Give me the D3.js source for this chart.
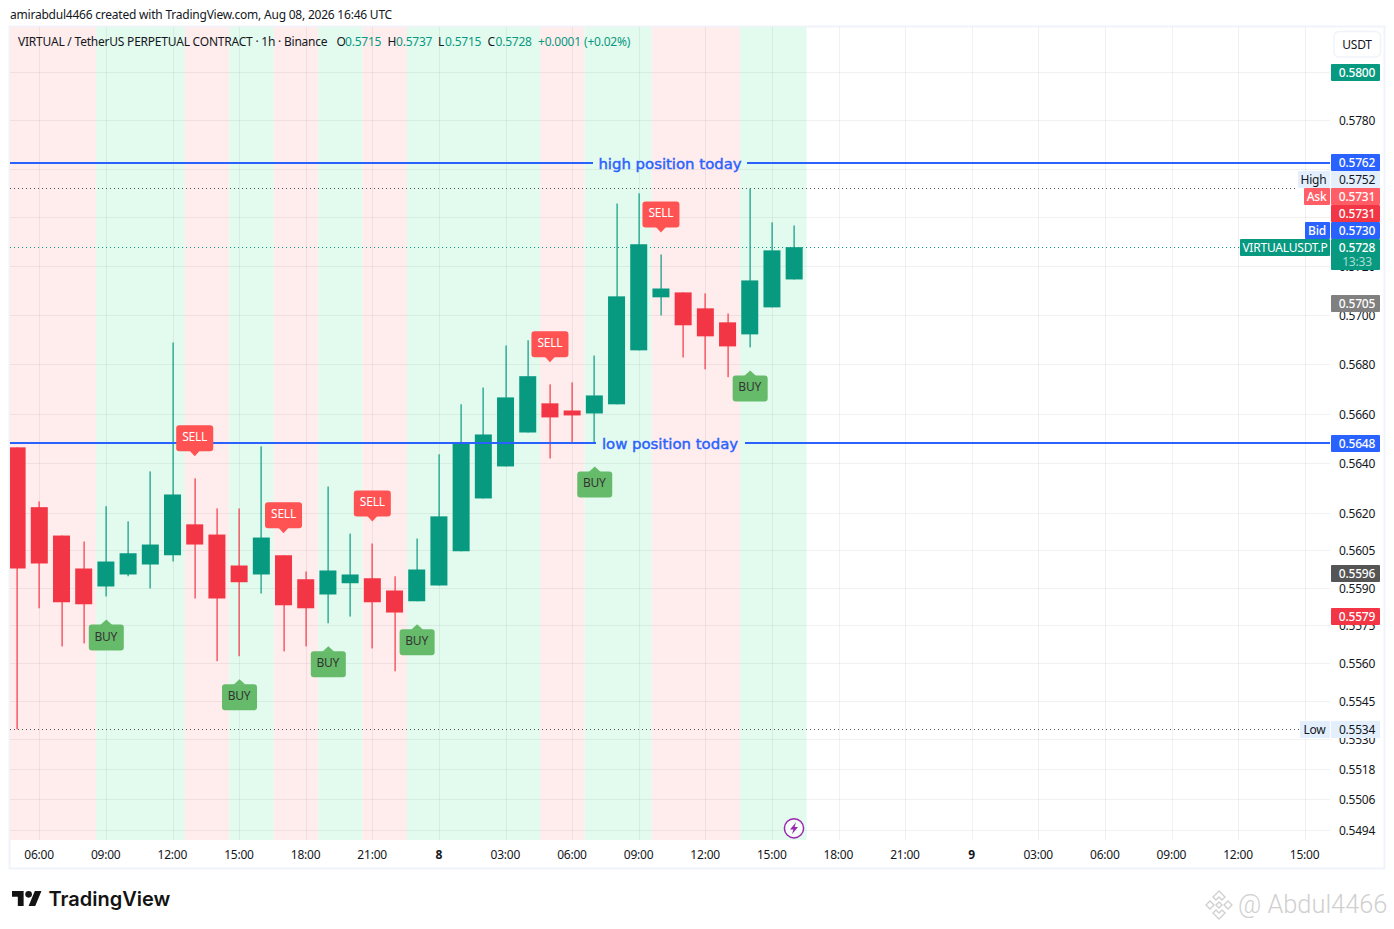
<!DOCTYPE html>
<html><head><meta charset="utf-8">
<script src="https://cdnjs.cloudflare.com/ajax/libs/d3/7.8.5/d3.min.js"></script>
<style>html,body{margin:0;padding:0;background:#fff}svg{display:block}text{font-family:"Noto Sans",Roboto,sans-serif;letter-spacing:-.22px}</style>
</head><body><svg id="c" width="1394" height="929"></svg>
<script>
// hours counted from Aug 7 00:00 UTC
const hours  = [5,6,7,8,9,10,11,12,13,14,15,16,17,18,19,20,21,22,23,24,25,26,27,28,29,30,31,32,33,34,35,36,37,38,39,40];
const opens  = [.56464,.56223,.56109,.55977,.55905,.55953,.55993,.5603,.56154,.56113,.55989,.55953,.5603,.55934,.55873,.55918,.55938,.55889,.55846,.55909,.56046,.56258,.56387,.56524,.56642,.56613,.56601,.56638,.56857,.57073,.57093,.57028,.56971,.56922,.57032,.57146];
const highs  = [.56464,.56246,.56109,.56085,.56227,.56166,.56367,.56889,.56339,.56218,.56218,.56468,.5603,.55965,.56306,.56117,.56077,.55946,.56097,.56436,.56638,.56706,.56877,.56898,.56719,.56727,.56836,.57457,.57499,.57248,.57093,.57089,.57007,.57519,.5738,.57367];
const lows   = [.55337,.55818,.55666,.55678,.55865,.55946,.55897,.56005,.55857,.55607,.55627,.55877,.55646,.55666,.55758,.55785,.55658,.55567,.55846,.55909,.56046,.56258,.56387,.56524,.56419,.5648,.5648,.56638,.56857,.56999,.56828,.5678,.56748,.56869,.57032,.57146];
const closes = [.55977,.55997,.55842,.55834,.56005,.56038,.56073,.56274,.56073,.55857,.55922,.56101,.5583,.55818,.55969,.55953,.55842,.55801,.55973,.56186,.5648,.56516,.56666,.56752,.56585,.56593,.56674,.57077,.5729,.57109,.56959,.56914,.56873,.57142,.57265,.57278];
const sellHours = [13,17,21,29,34];
const buyHours  = [9,15,19,23,31,38];
const bandEdges = [4.5,8.56,12.56,14.56,16.56,18.56,20.56,22.56,28.56,30.56,33.58,37.56,40.56];
const bandKinds = ['sell','buy','sell','buy','sell','buy','sell','buy','sell','buy','sell','buy'];
const timeTicks = [6,9,12,15,18,21,24,27,30,33,36,39,42,45,48,51,54,57,60,63];
const timeLabels= ['06:00','09:00','12:00','15:00','18:00','21:00','8','03:00','06:00','09:00','12:00','15:00','18:00','21:00','9','03:00','06:00','09:00','12:00','15:00'];
const priceTicks= [.58,.578,.576,.574,.572,.57,.568,.566,.564,.562,.5605,.559,.5575,.556,.5545,.553,.5518,.5506,.5494];
const highLine = .57622, lowLine = .5648, lastClose = .57278, dayHigh = .57519, dayLow = .55337;

const RED='#f23645', GREEN='#089981', BLUE='#2962ff', INK='#131722';
const L=10,R=1330,T=27,B=840, AX=1357;
const x=d3.scaleLinear().domain([6,63]).range([39.3,1304.8]);
const y=d3.scaleLog().domain([.5494,.58]).range([830,72]);
const svg=d3.select('#c');
svg.append('defs').append('clipPath').attr('id','pane').append('rect').attr('x',L).attr('y',T).attr('width',R-L).attr('height',B-T);
svg.append('rect').attr('x',9.5).attr('y',26.5).attr('width',1375).attr('height',842).attr('fill','#fff').attr('stroke','#f0f3fa').attr('stroke-width',2);

const pane=svg.append('g').attr('clip-path','url(#pane)');
// session bands
pane.append('g').selectAll('rect').data(bandKinds).join('rect')
  .attr('x',(d,i)=>x(bandEdges[i])).attr('width',(d,i)=>x(bandEdges[i+1])-x(bandEdges[i]))
  .attr('y',T).attr('height',B-T).attr('fill',d=>d==='sell'?'#ffecec':'#e3fbee');
// grid
const gx=pane.append('g').attr('transform',`translate(0,${B})`).call(d3.axisBottom(x).tickValues(timeTicks).tickSize(-(B-T)).tickFormat(''));
const gy=pane.append('g').attr('transform',`translate(${R},0)`).call(d3.axisLeft(y).tickValues(priceTicks).tickSize(R-L).tickFormat(''));
[gx,gy].forEach(g=>{g.select('.domain').remove();g.selectAll('line').attr('stroke','#2a2e39').attr('stroke-opacity',.065).attr('stroke-width',1).attr('shape-rendering','crispEdges');});

// dotted guides
const dot=[[dayHigh,1298,'#555'],[lastClose,1240,GREEN],[dayLow,1300,'#555']];
pane.append('g').selectAll('line').data(dot).join('line')
  .attr('x1',L).attr('x2',d=>d[1]).attr('y1',d=>Math.round(y(d[0]))+.5).attr('y2',d=>Math.round(y(d[0]))+.5)
  .attr('stroke',d=>d[2]).attr('stroke-dasharray','1 3').attr('stroke-width',1);

// candles
const cg=pane.append('g').selectAll('g').data(hours).join('g');
cg.append('rect').attr('x',h=>Math.round(x(h))-.5).attr('width',1.2)
  .attr('y',(h,i)=>y(highs[i])).attr('height',(h,i)=>y(lows[i])-y(highs[i]))
  .attr('fill',(h,i)=>closes[i]>=opens[i]?GREEN:RED);
cg.append('rect').attr('x',h=>x(h)-8.5).attr('width',17)
  .attr('y',(h,i)=>y(Math.max(opens[i],closes[i]))).attr('height',(h,i)=>Math.abs(y(opens[i])-y(closes[i])))
  .attr('fill',(h,i)=>closes[i]>=opens[i]?GREEN:RED);

// horizontal price lines with inline titles
const lines=[
 {v:highLine,t:'high position today',gap:[593,747]},
 {v:lowLine,t:'low position today',gap:[596,745]}];
const lg=svg.append('g').selectAll('g').data(lines).join('g');
const ly=d=>Math.round(y(d.v));
lg.append('line').attr('x1',L).attr('x2',d=>d.gap[0]).attr('y1',ly).attr('y2',ly).attr('stroke',BLUE).attr('stroke-width',2);
lg.append('line').attr('x1',d=>d.gap[1]).attr('x2',R).attr('y1',ly).attr('y2',ly).attr('stroke',BLUE).attr('stroke-width',2);
lg.append('text').attr('x',670).attr('y',d=>ly(d)+5.5).attr('text-anchor','middle').attr('fill',BLUE)
  .style('font-family','"DejaVu Sans"').style('letter-spacing','0').style('font-size','14.9px').attr('stroke',BLUE).attr('stroke-width',.45).text(d=>d.t);

// signals
const sig=svg.append('g');
sellHours.forEach(h=>{
  const i=hours.indexOf(h), cx=x(h), tip=y(highs[i])-22;
  const g=sig.append('g').attr('transform',`translate(${cx},${tip})`);
  g.append('path').attr('d','M-5,-5.5L0,0L5,-5.5Z').attr('fill','#ff5252');
  g.append('rect').attr('x',-18.5).attr('y',-31).attr('width',37).attr('height',26).attr('rx',3).attr('fill','#ff5252');
  g.append('text').attr('y',-15.5).attr('text-anchor','middle').attr('fill','#fff').style('font-size','12px').text('SELL');
});
buyHours.forEach(h=>{
  const i=hours.indexOf(h), cx=x(h)+.4, tip=y(lows[i])+23;
  const g=sig.append('g').attr('transform',`translate(${cx},${tip})`);
  g.append('path').attr('d','M-6,5.5L0,0L6,5.5Z').attr('fill','#66bb6a');
  g.append('rect').attr('x',-17.5).attr('y',5).attr('width',35).attr('height',26).attr('rx',3).attr('fill','#66bb6a');
  g.append('text').attr('x',-.5).attr('y',21).attr('text-anchor','middle').attr('fill','#333').style('font-size','12px').text('BUY');
});

// bolt icon
const bolt=svg.append('g').attr('transform','translate(794,828.3)');
bolt.append('circle').attr('r',9.6).attr('fill','#fff').attr('fill-opacity',.6).attr('stroke','#9c27b0').attr('stroke-width',1.5);
bolt.append('path').attr('d','M2,-6L-4,1.2H-.6L-2,6L4,-1.2H.6Z').attr('fill','#9c27b0');

// axes
const xa=svg.append('g').attr('transform','translate(-.7,849)').call(d3.axisBottom(x).tickValues(timeTicks).tickSize(0).tickPadding(0).tickFormat((d,i)=>timeLabels[i]));
xa.select('.domain').remove();
xa.selectAll('text').attr('dy','.8em').attr('fill',INK).style('font-size','12px').style('font-weight',(d,i)=>/:/.test(timeLabels[i])?400:700);
const ya=svg.append('g').attr('transform',`translate(${AX},.5)`).call(d3.axisRight(y).tickValues(priceTicks).tickSize(0).tickPadding(0).tickFormat(d3.format('.4f')));
ya.select('.domain').remove();
ya.selectAll('text').attr('text-anchor','middle').attr('fill',INK).style('font-size','12px');

// price tags
const tags=[
 {t:'0.5800',c:72.5,bg:GREEN},{t:'0.5762',c:162.5,bg:BLUE},
 {t:'0.5752',c:179.5,bg:'#e3effd',fg:INK,side:'High',sx:1298},
 {t:'0.5731',c:196.5,bg:'#ff5e66',side:'Ask',sx:1304},
 {t:'0.5731',c:213.5,bg:RED},
 {t:'0.5730',c:230.5,bg:BLUE,side:'Bid',sx:1305},
 {t:'0.5705',c:303.5,bg:'#808080'},{t:'0.5648',c:443.5,bg:BLUE},
 {t:'0.5596',c:573.5,bg:'#555'},{t:'0.5579',c:616.5,bg:RED},
 {t:'0.5534',c:729.5,bg:'#e3effd',fg:INK,side:'Low',sx:1300}];
const tg=svg.append('g');
tags.forEach(d=>{
  const fg=d.fg||'#fff';
  tg.append('rect').attr('x',1331).attr('y',d.c-8.5).attr('width',49).attr('height',17).attr('rx',1).attr('fill',d.bg);
  tg.append('text').attr('x',AX).attr('y',d.c+4.3).attr('text-anchor','middle').attr('fill',fg).style('font-size','12px').style('font-weight',d.fg?400:500).text(d.t);
  if(d.side){
    tg.append('rect').attr('x',d.sx).attr('y',d.c-8.5).attr('width',1330-d.sx).attr('height',17).attr('rx',1).attr('fill',d.bg);
    tg.append('text').attr('x',(1326+d.sx+1)/2+1).attr('y',d.c+4.3).attr('text-anchor','middle').attr('fill',fg).style('font-size','12px').style('font-weight',d.fg?400:500).text(d.side);
  }
});
tg.append('rect').attr('x',1331).attr('y',239).attr('width',49).attr('height',31).attr('rx',1).attr('fill',GREEN);
tg.append('text').attr('x',AX).attr('y',252).attr('text-anchor','middle').attr('fill','#fff').style('font-size','12px').style('font-weight',500).text('0.5728');
tg.append('text').attr('x',AX).attr('y',266).attr('text-anchor','middle').attr('fill','#a8dcd0').style('font-size','12px').text('13:33');
tg.append('rect').attr('x',1240).attr('y',239).attr('width',90).attr('height',17).attr('rx',1).attr('fill',GREEN);
tg.append('text').attr('x',1285).attr('y',252).attr('text-anchor','middle').attr('fill','#fff').style('font-size','12px').text('VIRTUALUSDT.P');

// currency button
svg.append('rect').attr('x',1334).attr('y',31.5).attr('width',46.5).attr('height',25.5).attr('rx',5).attr('fill','#fff').attr('stroke','#f0f3fa').attr('stroke-width',1.5);
svg.append('text').attr('x',1357).attr('y',49).attr('text-anchor','middle').attr('fill',INK).style('font-size','12px').text('USDT');

// title and legend
svg.append('text').attr('x',10).attr('y',19).attr('fill',INK).style('font-size','12px').text('amirabdul4466 created with TradingView.com, Aug 08, 2026 16:46 UTC');
const legend=[
 [18,'VIRTUAL / TetherUS PERPETUAL CONTRACT · 1h · Binance',INK],
 [336.5,'O',INK],[345,'0.5715',GREEN],[387.5,'H',INK],[396,'0.5737',GREEN],[438,'L',INK],[445,'0.5715',GREEN],
 [487.5,'C',INK],[495.5,'0.5728',GREEN],[538,'+0.0001',GREEN],[584,'(+0.02%)',GREEN]];
svg.append('g').selectAll('text').data(legend).join('text').attr('x',d=>d[0]).attr('y',46).attr('fill',d=>d[2]).style('font-size','12px').text(d=>d[1]);

// TradingView logo
const logo=svg.append('g').attr('transform','translate(12,887.7) scale(.83)').attr('fill','#131313');
logo.append('path').attr('d','M14 22H7V11H0V4h14v18zM28 22h-8l7.5-18h8L28 22z');
logo.append('circle').attr('cx',20).attr('cy',8).attr('r',4);
svg.append('text').attr('x',48.5).attr('y',906).attr('fill','#131313').style('font-family','Inter').style('font-size','20px').style('letter-spacing','0').style('font-weight',600).text('TradingView');

// watermark
const wm=svg.append('g').attr('transform','translate(1219,905)').attr('fill','none').attr('stroke','#d0d0d0').attr('stroke-width',1.4);
wm.append('path').attr('d','M0,-14L6,-8L3,-5L0,-8L-3,-5L-6,-8Z');
wm.append('path').attr('d','M0,14L6,8L3,5L0,8L-3,5L-6,8Z');
wm.append('path').attr('d','M-13,0L-9,-4L-5,0L-9,4Z');
wm.append('path').attr('d','M13,0L9,-4L5,0L9,4Z');
wm.append('path').attr('d','M0,-3L3,0L0,3L-3,0Z');
svg.append('text').attr('x',1238).attr('y',913).attr('fill','#d0d0d0').style('font-size','25.4px').style('letter-spacing','0').style('font-family','Roboto').style('font-weight',300).text('@ Abdul4466');
</script></body></html>
